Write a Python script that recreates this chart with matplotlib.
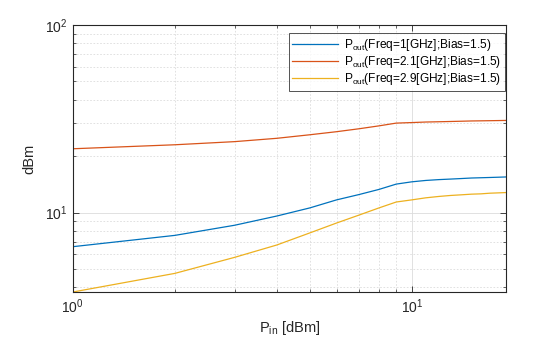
import matplotlib.pyplot as plt
from matplotlib.ticker import LogLocator, NullFormatter

plt.rcParams['font.family'] = ['Liberation Sans', 'DejaVu Sans']
plt.rcParams['mathtext.fontset'] = 'custom'
plt.rcParams['mathtext.rm'] = 'Liberation Sans'

# input power sweep
pin = [1, 2, 3, 4, 5, 6, 7, 8, 9, 10, 11, 12, 13, 14, 15, 16, 17, 18, 19]

# output power for each frequency (bias 1.5)
pout_f1 = [6.59, 7.57, 8.57, 9.6, 10.6, 11.7, 12.5, 13.3, 14.2, 14.6,
           14.85, 15.0, 15.1, 15.2, 15.3, 15.35, 15.4, 15.45, 15.5]
pout_f21 = [21.9, 23.0, 23.9, 24.9, 26.0, 27.0, 28.0, 29.0, 30.0, 30.2,
            30.4, 30.5, 30.6, 30.7, 30.8, 30.85, 30.9, 30.95, 31.0]
pout_f29 = [3.78, 4.75, 5.78, 6.73, 7.8, 8.81, 9.72, 10.6, 11.4, 11.7,
            12.0, 12.2, 12.35, 12.45, 12.55, 12.6, 12.7, 12.75, 12.8]

labels = ['P$_{\\rm out}$(Freq=1[GHz];Bias=1.5)',
          'P$_{\\rm out}$(Freq=2.1[GHz];Bias=1.5)',
          'P$_{\\rm out}$(Freq=2.9[GHz];Bias=1.5)']
colors = ['#0072BD', '#D95319', '#EDB120']

fig = plt.figure(figsize=(5.6, 3.37), dpi=100)
ax = fig.add_axes([0.130, 0.1335, 0.774, 0.7925])

for y, lab, c in zip([pout_f1, pout_f21, pout_f29], labels, colors):
    ax.plot(pin, y, color=c, lw=0.9, label=lab)

ax.set_xscale('log')
ax.set_yscale('log')
ax.set_xlim(1, 19)
ax.set_ylim(3.78, 100)

ax.xaxis.set_major_locator(LogLocator(base=10))
ax.yaxis.set_major_locator(LogLocator(base=10))
ax.xaxis.set_minor_locator(LogLocator(base=10, subs=range(2, 10)))
ax.yaxis.set_minor_locator(LogLocator(base=10, subs=range(2, 10)))
ax.xaxis.set_minor_formatter(NullFormatter())
ax.yaxis.set_minor_formatter(NullFormatter())

ax.grid(True, which='major', color='#dcdcdc', lw=0.6, ls='-')
ax.grid(True, which='minor', color='#dcdcdc', lw=0.6, ls=(0, (2, 2)))
ax.set_axisbelow(True)

ax.tick_params(which='both', direction='in', top=True, right=True,
               labelsize=10, colors='#262626')
ax.tick_params(which='major', length=4, width=0.6, pad=4)
ax.tick_params(which='minor', length=2, width=0.5)
for s in ax.spines.values():
    s.set_linewidth(0.8)
    s.set_color('#262626')

ax.set_xlabel('P$_{\\rm in}$ [dBm]', fontsize=10.5, color='#262626', labelpad=2)
ax.set_ylabel('dBm', fontsize=10.5, color='#262626', labelpad=6)

leg = ax.legend(loc='upper right', bbox_to_anchor=(0.996, 0.968),
                fontsize=8.6, frameon=True, fancybox=False,
                edgecolor='#262626', handlelength=3.8, handletextpad=0.5,
                borderaxespad=0.0, labelspacing=0.1, borderpad=0.3)
leg.get_frame().set_linewidth(0.7)

fig.savefig('out.png', dpi=100)
